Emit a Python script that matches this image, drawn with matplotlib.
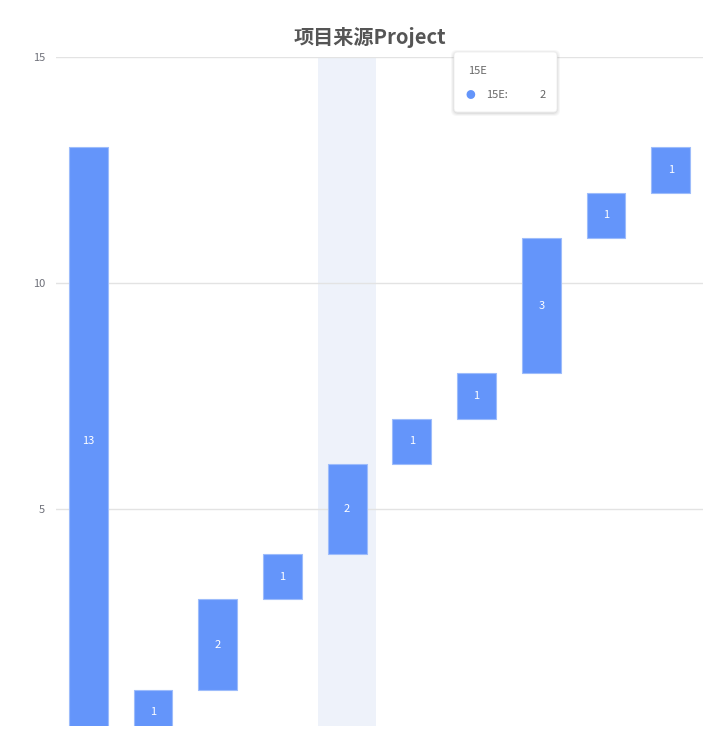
import numpy as np
import matplotlib
matplotlib.use("Agg")
import matplotlib.pyplot as plt
from matplotlib.patches import FancyBboxPatch

plt.rcParams['font.family'] = ['Noto Sans CJK SC', 'DejaVu Sans']

# 数据: 各来源的项目数 (首项为合计), 阶梯式堆叠
categories = ["合计", "11E", "12E", "13E", "15E", "16E", "17E", "18E", "19E", "20E"]
values = [13, 1, 2, 1, 2, 1, 1, 3, 1, 1]
bases = [0, 0, 1, 3, 4, 6, 7, 8, 11, 12]
yticks = [5, 10, 15]
hover = "15E"

W, H = 703, 729
fig = plt.figure(figsize=(W / 100, H / 100), dpi=100)
# 原图在底部被截断: y=0 应在 735px, 可见区域止于 726px
y0_px, y15_px, ybot_px = 735, 57, 726
ppu = (y0_px - y15_px) / 15
ax = fig.add_axes([56 / W, 1 - ybot_px / H, (703 - 56) / W, (ybot_px - y15_px) / H])
x = np.arange(len(categories))
ax.set_xlim(-0.5, len(categories) - 0.5)
ax.set_ylim((y0_px - ybot_px) / ppu, 15)

hi = categories.index(hover)
ax.axvspan(hi - 0.45, hi + 0.45, color="#eef2fa", zorder=0, lw=0)
for yv in yticks:
    ax.axhline(yv, color="#e3e3e3", lw=1, zorder=0.5)

ax.bar(x, values, bottom=bases, width=0.6, color="#6495fa",
       edgecolor="#9dbcfb", linewidth=0.8, zorder=2)
for xi, v, b in zip(x, values, bases):
    ax.text(xi, b + v / 2, str(v), color="white", ha="center", va="center",
            fontsize=8, zorder=3)

for s in ax.spines.values():
    s.set_visible(False)
ax.set_xticks([])
ax.set_yticks(yticks)
ax.tick_params(axis="y", length=0, pad=8, labelsize=8, labelcolor="#6e7079")

fig.text(370 / W, 1 - 38 / H, "项目来源Project", ha="center", va="center",
         fontsize=14.5, fontweight="bold", color="#555555")

# 悬浮提示框
bx, by, bw, bh = 454, 52, 103, 60
for i, a in enumerate([0.03, 0.04, 0.05]):
    d = 3 - i
    sh = FancyBboxPatch(((bx - d) / W, 1 - (by + bh + d + 1) / H),
                        (bw + 2 * d) / W, (bh + 2 * d) / H,
                        boxstyle="round,pad=0,rounding_size=0.008",
                        transform=fig.transFigure, fc="#000000", alpha=a,
                        ec="none", zorder=9)
    fig.patches.append(sh)
box = FancyBboxPatch((bx / W, 1 - (by + bh) / H), bw / W, bh / H,
                     boxstyle="round,pad=0,rounding_size=0.005",
                     transform=fig.transFigure, fc="white", ec="#eeeeee",
                     lw=0.6, zorder=10)
fig.patches.append(box)
fig.text(468 / W, 1 - 71 / H, hover, fontsize=8, color="#666666",
         va="center", zorder=11)
fig.text(470 / W, 1 - 95 / H, "●", fontsize=7, color="#6495fa",
         va="center", ha="center", zorder=11)
fig.text(486 / W, 1 - 95 / H, hover + ":", fontsize=8, color="#666666",
         va="center", zorder=11)
fig.text(546 / W, 1 - 95 / H, str(values[hi]), fontsize=8, color="#666666",
         va="center", ha="right", zorder=11)

fig.savefig("out.png", dpi=100)
